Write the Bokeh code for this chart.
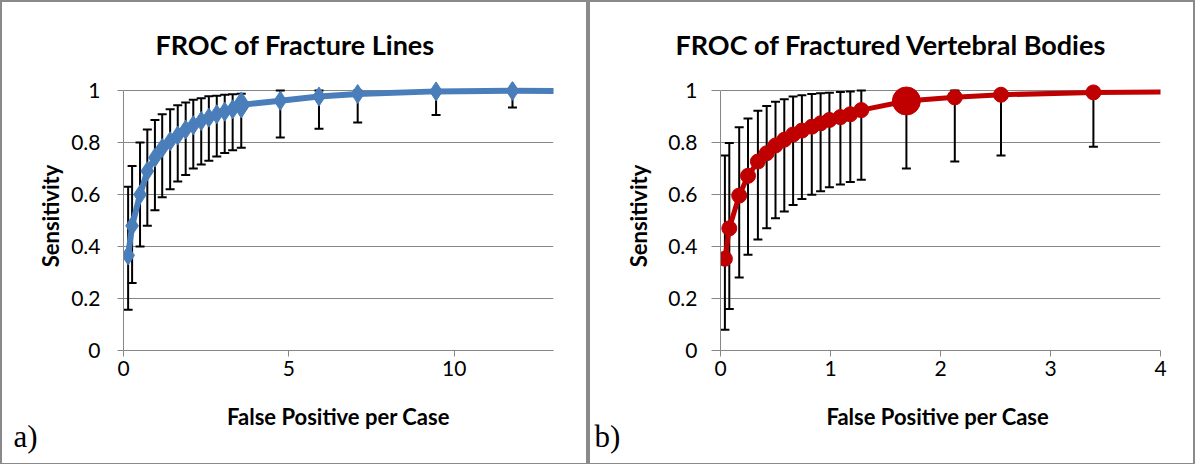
from bokeh.plotting import figure
from bokeh.models import (ColumnDataSource, Whisker, TeeHead, Range1d, FixedTicker,
                          CustomJSTickFormatter, Label, Title)
from bokeh.layouts import row
from bokeh.embed import file_html
from bokeh.resources import INLINE

# ---------------- data: a) FROC of Fracture Lines ----------------
lines_fp = [0.14, 0.26, 0.50, 0.72, 0.95, 1.17, 1.41, 1.64, 1.88, 2.11, 2.35,
            2.58, 2.82, 3.06, 3.30, 3.56, 4.74, 5.91, 7.08, 9.45, 11.76]
lines_sens = [0.366, 0.48, 0.60, 0.69, 0.742, 0.779, 0.805, 0.827, 0.850, 0.867, 0.883,
              0.896, 0.909, 0.919, 0.928, 0.945, 0.961, 0.977, 0.987, 0.997, 0.999]
lines_upper = [0.63, 0.71, 0.80, 0.85, 0.887, 0.909, 0.928, 0.944, 0.954, 0.965, 0.971,
               0.978, 0.980, 0.984, 0.986, 0.988, 1.0, 1.0, 1.0, 1.0, 1.0]
lines_lower = [0.157, 0.26, 0.40, 0.48, 0.54, 0.59, 0.62, 0.65, 0.675, 0.70, 0.716,
               0.73, 0.746, 0.76, 0.77, 0.78, 0.82, 0.853, 0.877, 0.906, 0.935]
lines_tail_fp = [13.5]
lines_tail_sens = [0.998]
lines_big_point = 15
lines_x_ticks = [0, 5, 10]
lines_x_max = 13

# ---------------- data: b) FROC of Fractured Vertebral Bodies ----------------
bodies_fp = [0.04, 0.08, 0.17, 0.25, 0.34, 0.42, 0.50, 0.58, 0.66, 0.74, 0.83,
             0.91, 0.99, 1.09, 1.18, 1.28, 1.69, 2.13, 2.55, 3.39]
bodies_sens = [0.353, 0.47, 0.596, 0.672, 0.727, 0.759, 0.789, 0.811, 0.831, 0.846, 0.861,
               0.874, 0.887, 0.898, 0.909, 0.925, 0.960, 0.974, 0.984, 0.993]
bodies_upper = [0.75, 0.798, 0.859, 0.893, 0.922, 0.941, 0.957, 0.967, 0.977, 0.982, 0.987,
                0.990, 0.992, 0.995, 0.997, 1.0, 1.0, 1.0, 1.0, 1.0]
bodies_lower = [0.08, 0.16, 0.281, 0.368, 0.427, 0.47, 0.509, 0.535, 0.56, 0.583, 0.599,
                0.613, 0.628, 0.639, 0.648, 0.657, 0.70, 0.727, 0.75, 0.784]
bodies_tail_fp = [4.3]
bodies_tail_sens = [0.996]
bodies_big_point = 16
bodies_x_ticks = [0, 1, 2, 3, 4]
bodies_x_max = 4

sens_ticks = [0, 0.2, 0.4, 0.6, 0.8, 1]

# ---------------- layout / style ----------------
H = 454
FRAME_TOP = 79
PX_PER_Y = 256
Y_TOP = 1.035
FRAME_H = round(Y_TOP * PX_PER_Y)
GRID = "#868686"
TEXT_FONT = "Lato"
TITLE_PROPS = Title.properties()


def panel(title, tag, tag_x, xlabel, fp, sens, upper, lower, tail_fp, tail_sens, big,
          x_max, x_ticks, color, marker, size, big_size, lw,
          width, axis_left, frame_w, tick_out, title_offset, ylabel_standoff):
    p = figure(x_range=Range1d(0, x_max), y_range=Range1d(0, Y_TOP),
               frame_width=frame_w, frame_height=FRAME_H,
               min_border_left=axis_left, min_border_right=width - axis_left - frame_w,
               min_border_top=FRAME_TOP, min_border_bottom=H - FRAME_TOP - FRAME_H,
               output_backend="svg", toolbar_location=None)
    p.styles = {"border": "2px solid #8a8a8a", "box-sizing": "border-box"}
    p.outline_line_color = None
    p.background_fill_color = "white"
    p.border_fill_color = "white"

    p.title.text = title
    p.title.align = "left"
    p.title.offset = title_offset
    p.title.text_font = TEXT_FONT
    p.title.text_font_style = "bold"
    p.title.text_font_size = "27px"
    p.title.text_color = "black"
    if "padding" in TITLE_PROPS:
        p.title.padding = 16

    p.xgrid.visible = False
    p.ygrid.grid_line_color = GRID
    p.ygrid.grid_line_width = 1

    xa = p.xaxis[0]
    xa.ticker = FixedTicker(ticks=x_ticks)
    xa.axis_line_color = GRID
    xa.major_tick_line_color = GRID
    xa.major_tick_out = 6
    xa.major_tick_in = 0
    xa.minor_tick_line_color = None
    xa.major_label_text_font = TEXT_FONT
    xa.major_label_text_font_size = "21px"
    xa.major_label_text_color = "black"
    xa.major_label_standoff = 4
    xa.axis_label = xlabel
    xa.axis_label_text_font = TEXT_FONT
    xa.axis_label_text_font_style = "bold"
    xa.axis_label_text_font_size = "22px"
    xa.axis_label_text_color = "black"
    xa.axis_label_standoff = 24

    ya = p.yaxis[0]
    ya.ticker = FixedTicker(ticks=sens_ticks)
    ya.formatter = CustomJSTickFormatter(code="return String(Math.round(tick * 10) / 10);")
    ya.bounds = (0, 1)
    ya.axis_line_color = GRID
    ya.major_tick_line_color = GRID
    ya.major_tick_out = tick_out
    ya.major_tick_in = 0
    ya.minor_tick_line_color = None
    ya.major_label_text_font = TEXT_FONT
    ya.major_label_text_font_size = "21px"
    ya.major_label_text_color = "black"
    ya.major_label_standoff = 23 - tick_out
    ya.axis_label = "Sensitivity"
    ya.axis_label_text_font = TEXT_FONT
    ya.axis_label_text_font_style = "bold"
    ya.axis_label_text_font_size = "22px"
    ya.axis_label_text_color = "black"
    ya.axis_label_standoff = ylabel_standoff

    src = ColumnDataSource(dict(base=fp, upper=upper, lower=lower))
    w = Whisker(source=src, base="base", upper="upper", lower="lower", dimension="height",
                line_color="black", line_width=2, level="underlay",
                upper_head=TeeHead(size=9, line_color="black", line_width=2),
                lower_head=TeeHead(size=9, line_color="black", line_width=2))
    p.add_layout(w)

    p.line(list(fp) + list(tail_fp), list(sens) + list(tail_sens),
           line_color=color, line_width=lw, line_join="round")
    sizes = [big_size if i == big else size for i in range(len(fp))]
    p.scatter(fp, sens, marker=marker, size=sizes, fill_color=color, line_color=color)

    p.add_layout(Label(x=tag_x, y=432, x_units="canvas", y_units="canvas", text=tag,
                       text_font="Liberation Serif", text_font_size="31px",
                       text_baseline="middle", text_color="black"), "below")
    return p


p1 = panel("FROC of Fracture Lines", "a)", 9, "False Positive per Case",
           lines_fp, lines_sens, lines_upper, lines_lower, lines_tail_fp, lines_tail_sens,
           lines_big_point, lines_x_max, lines_x_ticks, "#4A7EBB", "diamond", 19, 26, 6,
           width=584, axis_left=121, frame_w=426, tick_out=6, title_offset=16,
           ylabel_standoff=4)
p2 = panel("FROC of Fractured Vertebral Bodies", "b)", 2, "False Positive  per Case",
           bodies_fp, bodies_sens, bodies_upper, bodies_lower, bodies_tail_fp, bodies_tail_sens,
           bodies_big_point, bodies_x_max, bodies_x_ticks, "#C00000", "circle", 15, 28, 5,
           width=603, axis_left=130, frame_w=436, tick_out=9, title_offset=-61,
           ylabel_standoff=13)

layout = row(p1, p2)
open("out.html", "w").write(file_html(layout, INLINE))
